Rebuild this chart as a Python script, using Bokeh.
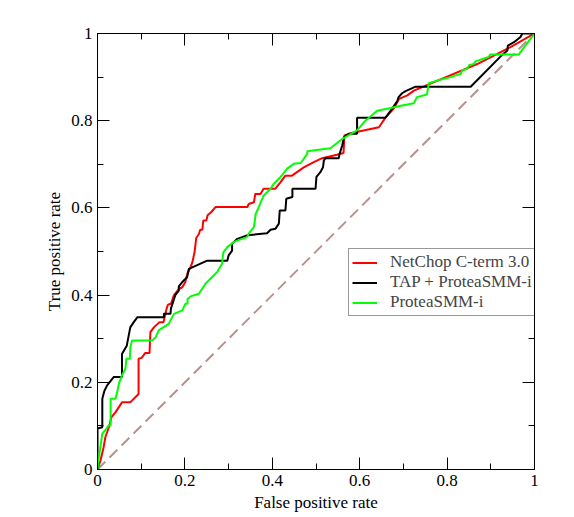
from bokeh.plotting import figure
from bokeh.models import (Range1d, LinearAxis, SingleIntervalTicker, CustomJSTickFormatter,
                          Legend, LegendItem)
from bokeh.embed import file_html
from bokeh.resources import INLINE

# NetChop C-term 3.0
netchop_fpr = [0, 0.007, 0.014, 0.018, 0.026, 0.032, 0.041, 0.056, 0.075, 0.094, 0.094, 0.101,
               0.109, 0.119, 0.121, 0.129, 0.142, 0.151, 0.158, 0.161, 0.168, 0.175, 0.186,
               0.194, 0.201, 0.206, 0.213, 0.217, 0.222, 0.226, 0.232, 0.235, 0.240, 0.242,
               0.249, 0.252, 0.260, 0.270, 0.343, 0.346, 0.358, 0.361, 0.373, 0.380, 0.407,
               0.419, 0.430, 0.445, 0.472, 0.495, 0.514, 0.548, 0.563, 0.565, 0.579, 0.644,
               0.659, 0.678, 0.690, 0.709, 0.724, 0.762, 0.869, 0.945, 1.0]
netchop_tpr = [0, 0.021, 0.051, 0.074, 0.097, 0.120, 0.131, 0.154, 0.154, 0.173, 0.254, 0.256,
               0.267, 0.267, 0.315, 0.326, 0.338, 0.338, 0.368, 0.378, 0.380, 0.400, 0.414,
               0.418, 0.430, 0.450, 0.464, 0.475, 0.498, 0.531, 0.540, 0.550, 0.550, 0.571,
               0.571, 0.583, 0.590, 0.602, 0.602, 0.609, 0.613, 0.632, 0.632, 0.644, 0.644,
               0.659, 0.674, 0.674, 0.693, 0.705, 0.714, 0.722, 0.726, 0.766, 0.771, 0.785,
               0.807, 0.828, 0.850, 0.858, 0.869, 0.885, 0.930, 0.969, 1.0]

# TAP + ProteaSMM-i
tap_fpr = [0, 0, 0.011, 0.011, 0.011, 0.016, 0.022, 0.037, 0.056, 0.056, 0.067, 0.075, 0.083,
           0.091, 0.152, 0.152, 0.167, 0.168, 0.178, 0.186, 0.186, 0.194, 0.205, 0.209, 0.213,
           0.251, 0.297, 0.300, 0.308, 0.308, 0.320, 0.342, 0.388, 0.396, 0.407, 0.415, 0.417,
           0.430, 0.432, 0.446, 0.446, 0.499, 0.501, 0.510, 0.516, 0.518, 0.522, 0.552, 0.554,
           0.560, 0.564, 0.575, 0.594, 0.594, 0.659, 0.674, 0.686, 0.689, 0.697, 0.705, 0.728,
           0.854, 0.922, 0.938, 0.939, 0.953, 0.968, 0.972, 1.0]
tap_tpr = [0, 0.094, 0.097, 0.101, 0.162, 0.181, 0.193, 0.212, 0.212, 0.265, 0.284, 0.326, 0.338,
           0.349, 0.349, 0.357, 0.357, 0.369, 0.400, 0.410, 0.420, 0.430, 0.441, 0.460, 0.462,
           0.479, 0.479, 0.491, 0.502, 0.518, 0.529, 0.537, 0.542, 0.550, 0.552, 0.564, 0.594,
           0.594, 0.621, 0.625, 0.644, 0.644, 0.671, 0.682, 0.693, 0.709, 0.714, 0.714, 0.724,
           0.743, 0.762, 0.770, 0.770, 0.807, 0.807, 0.827, 0.845, 0.854, 0.863, 0.868, 0.878,
           0.878, 0.947, 0.961, 0.972, 0.980, 0.992, 1.0, 1.0]

# ProteaSMM-i
smm_fpr = [0, 0.002, 0.011, 0.020, 0.025, 0.030, 0.030, 0.041, 0.045, 0.049, 0.056, 0.064,
           0.066, 0.074, 0.075, 0.079, 0.125, 0.133, 0.140, 0.163, 0.167, 0.175, 0.194, 0.201,
           0.206, 0.206, 0.213, 0.232, 0.247, 0.262, 0.274, 0.285, 0.288, 0.297, 0.312, 0.342,
           0.346, 0.358, 0.362, 0.369, 0.380, 0.396, 0.403, 0.419, 0.434, 0.449, 0.465, 0.480,
           0.480, 0.510, 0.533, 0.560, 0.594, 0.613, 0.640, 0.671, 0.697, 0.724, 0.731, 0.754,
           0.758, 0.777, 0.808, 0.820, 0.831, 0.834, 0.846, 0.850, 0.861, 0.865, 0.895, 0.899,
           0.964, 1.0]
smm_tpr = [0, 0.020, 0.082, 0.093, 0.101, 0.101, 0.162, 0.162, 0.177, 0.197, 0.216, 0.231,
           0.254, 0.254, 0.280, 0.296, 0.296, 0.303, 0.319, 0.334, 0.342, 0.357, 0.365, 0.380,
           0.380, 0.391, 0.397, 0.403, 0.426, 0.441, 0.453, 0.472, 0.498, 0.510, 0.522, 0.533,
           0.541, 0.556, 0.586, 0.602, 0.628, 0.644, 0.655, 0.671, 0.690, 0.701, 0.703, 0.724,
           0.730, 0.734, 0.737, 0.758, 0.778, 0.800, 0.823, 0.829, 0.835, 0.840, 0.854, 0.860,
           0.886, 0.892, 0.900, 0.904, 0.907, 0.915, 0.919, 0.927, 0.930, 0.936, 0.946, 0.952,
           0.952, 1.0]

diag = [0, 1]

labels = ["NetChop C-term 3.0", "TAP + ProteaSMM-i", "ProteaSMM-i"]
FONT = "Liberation Serif"

p = figure(width=574, height=517, output_backend="svg", toolbar_location=None,
           x_range=Range1d(0, 1), y_range=Range1d(0, 1),
           min_border_left=97, min_border_right=40, min_border_top=33, min_border_bottom=48,
           x_axis_label="False positive rate", y_axis_label="True positive rate")
p.grid.visible = False
p.outline_line_color = None
p.background_fill_color = "white"
p.border_fill_color = "white"

fmt = CustomJSTickFormatter(code="return tick.toFixed(1).replace(/\\.0$/, '');")
blank = CustomJSTickFormatter(code="return '';")

def style(ax, show_labels=True):
    ax.ticker = SingleIntervalTicker(interval=0.2, num_minor_ticks=2)
    ax.formatter = fmt if show_labels else blank
    ax.major_tick_in = 12
    ax.major_tick_out = 0
    ax.minor_tick_in = 6
    ax.minor_tick_out = 0
    ax.axis_line_color = "black"
    ax.major_tick_line_color = "black"
    ax.minor_tick_line_color = "black"
    ax.major_label_text_font = FONT
    ax.major_label_text_font_size = "17px"
    ax.major_label_text_color = "black"
    ax.axis_label_text_font = FONT
    ax.axis_label_text_font_size = "17px"
    ax.axis_label_text_font_style = "normal"
    ax.axis_label_text_color = "black"
    ax.major_label_standoff = 5
    ax.axis_label_standoff = 4
    if not show_labels:
        ax.major_label_standoff = 0

for ax in p.xaxis + p.yaxis:
    style(ax)

top = LinearAxis()
right = LinearAxis()
style(top, False)
style(right, False)
p.add_layout(top, "above")
p.add_layout(right, "right")

p.line(diag, diag, line_color="#bc8f8f", line_width=2, line_dash="11 6")
r1 = p.line(netchop_fpr, netchop_tpr, line_color="#ff0000", line_width=2)
r2 = p.line(tap_fpr, tap_tpr, line_color="#000000", line_width=2)
r3 = p.line(smm_fpr, smm_tpr, line_color="#00ff00", line_width=2)

legend = Legend(items=[LegendItem(label=labels[0], renderers=[r1]),
                       LegendItem(label=labels[1], renderers=[r2]),
                       LegendItem(label=labels[2], renderers=[r3])],
                location=(251, 153))
legend.label_text_font = FONT
legend.label_text_font_size = "17px"
legend.glyph_width = 25
legend.glyph_height = 17
legend.label_height = 17
legend.label_standoff = 13
legend.padding = 3
legend.spacing = 0
legend.margin = 0
legend.border_line_color = "#333333"
legend.border_line_width = 1
legend.background_fill_alpha = 1
p.add_layout(legend)

open("out.html", "w").write(file_html(p, INLINE))
